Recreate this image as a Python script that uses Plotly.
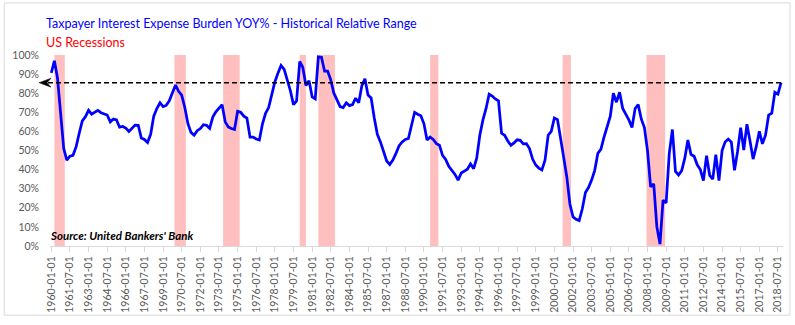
import pandas as pd
import plotly.graph_objects as go

# ---------------- data (quarterly) ----------------
series_start = "1960-01-01"
burden_pct = [
    # 1960-1964
    90.6, 97, 88, 70.5, 51, 45, 47, 47.5, 52, 59, 65.5, 67.7, 71, 69, 70, 71, 69.8, 69.2, 68.6, 65,
    # 1965-1969
    66.5, 66, 62.2, 62.6, 61.7, 60, 61.5, 63.3, 63.2, 56.5, 55.8, 54.2, 58.5, 68, 72, 75, 73, 73.6, 76, 80.7,
    # 1970-1974
    84.3, 81, 79, 72.5, 64, 59.5, 58, 60.4, 61.5, 63.5, 63.2, 61.6, 67.5, 70.2, 72.3, 74, 65, 62.3, 61.5, 61,
    # 1975-1979
    70.5, 70, 68, 67, 57, 57, 56, 55.5, 64, 69.5, 72.5, 79.5, 86, 90.5, 94.5, 92.5, 87, 81.3, 74, 76,
    # 1980-1984
    96.6, 93.5, 84, 86.5, 78, 77, 99, 98.8, 91.5, 91.5, 87, 80, 76.5, 73, 72.5, 75, 73.5, 74, 77.4, 75,
    # 1985-1989
    84, 87.5, 79, 77.5, 67, 58.5, 54.5, 49.5, 44.5, 42.7, 45, 48.5, 52.5, 54.5, 55.8, 56.3, 64, 70, 69, 68.2,
    # 1990-1994
    64, 55.5, 57, 55.8, 53.6, 52.8, 47.5, 45.3, 41.7, 39.7, 37.5, 34.5, 38.2, 39.2, 40.2, 43, 40.5, 46, 58, 66,
    # 1995-1999
    72, 79.5, 78.5, 77, 76, 59, 58, 55, 52.7, 54, 55.6, 55.3, 53.5, 53.6, 51, 45.5, 42.4, 40.8, 39.8, 45,
    # 2000-2004
    58, 60, 67, 66.2, 57, 46.5, 36.3, 22, 15.2, 14, 13.3, 19.5, 28, 30.6, 34.5, 39.6, 48.5, 50.7, 57, 62.5,
    # 2005-2009
    68, 80, 75.3, 80.5, 72, 69, 66, 62, 72, 74, 66.5, 62, 49.8, 31, 32.5, 10, 1, 24, 22.5, 48.5,
    # 2010-2014
    61, 39, 37.2, 39.5, 46, 55.5, 48, 47, 42.5, 40, 34.2, 47.3, 37, 35, 47.8, 34.2, 50, 54.5, 56, 54.4,
    # 2015-2018
    39.6, 49.5, 62, 50.2, 63.8, 55, 45.5, 52, 60, 53.5, 58, 68.5, 69.5, 80.5, 79.5, 85.5,
]

rec_start = ["1960-04-01", "1969-12-01", "1973-11-01", "1980-01-01",
             "1981-07-01", "1990-07-01", "2001-03-01", "2007-12-01"]
rec_end = ["1961-02-01", "1970-11-01", "1975-03-01", "1980-07-01",
           "1982-11-01", "1991-03-01", "2001-11-01", "2009-06-01"]

tick_start = "1960-01-01"
tick_end = "2018-07-01"
y_ticks = [0, 10, 20, 30, 40, 50, 60, 70, 80, 90, 100]

title_text = "Taxpayer Interest Expense Burden YOY% - Historical Relative Range"
legend_text = "US Recessions"
source_text = "Source: United Bankers' Bank"

# ---------------- derived ----------------
dates = pd.date_range(series_start, periods=len(burden_pct), freq="QS")
tick_dates = pd.date_range(tick_start, tick_end, freq="18MS")
tick_text = [d.strftime("%Y-%m-%d") for d in tick_dates]
y_text = [f"{v}%" for v in y_ticks]

x_range = [pd.Timestamp("1959-11-24"), pd.Timestamp("2018-11-27")]

W, H = 795, 325
L, R, T, B = 47, 12, 55, 74
pw = W - L - R
ph = H - T - B


def px_x(p):
    return (p - L) / pw


def px_y(p):
    return (H - B - p) / ph


FONT = "Lato"
GRAY = "#595959"
AXIS = "#D9D9D9"

fig = go.Figure()

fig.add_trace(go.Scatter(
    x=dates, y=burden_pct, mode="lines",
    line=dict(color="#0000FF", width=2.75),
    hoverinfo="skip",
))

for s, e in zip(rec_start, rec_end):
    fig.add_shape(type="rect", xref="x", yref="y", x0=s, x1=e, y0=0, y1=100,
                  fillcolor="#FFBFBF", line_width=0, layer="below")

# dashed "current level" line with a left-pointing arrowhead
current = burden_pct[-1]
cur_py = (H - B) - current / 100 * ph  # pixel row of the current level
end_frac = (dates[-1] - x_range[0]) / (x_range[1] - x_range[0])
fig.add_shape(type="line", xref="paper", yref="paper", x0=px_x(45), x1=end_frac,
              y0=px_y(cur_py), y1=px_y(cur_py),
              line=dict(color="black", width=1.5, dash="5px,3px"))

tip_x, back_x, notch_x, half_h = 36, 48, 44, 4.6
path = (f"M {px_x(tip_x)},{px_y(cur_py)} "
        f"L {px_x(back_x)},{px_y(cur_py - half_h)} "
        f"L {px_x(notch_x)},{px_y(cur_py)} "
        f"L {px_x(back_x)},{px_y(cur_py + half_h)} Z")
fig.add_shape(type="path", xref="paper", yref="paper", path=path,
              fillcolor="black", line=dict(color="black", width=0.5))

# chart border
fig.add_shape(type="rect", xref="paper", yref="paper",
              x0=px_x(1), x1=px_x(790), y0=px_y(322), y1=px_y(1.5),
              line=dict(color=AXIS, width=1), fillcolor="rgba(0,0,0,0)")

fig.add_annotation(xref="paper", yref="paper", x=px_x(41), y=px_y(23),
                   xanchor="left", yanchor="middle", showarrow=False,
                   text=title_text, font=dict(family=FONT, size=12.5, color="#0000FF"))
fig.add_annotation(xref="paper", yref="paper", x=px_x(41), y=px_y(42),
                   xanchor="left", yanchor="middle", showarrow=False,
                   text=legend_text, font=dict(family=FONT, size=12.5, color="#FF0000"))
fig.add_annotation(xref="paper", yref="paper", x=px_x(45), y=px_y(240),
                   xanchor="left", yanchor="middle", showarrow=False,
                   text="<b><i>" + source_text + "</i></b>",
                   font=dict(family=FONT, size=11.5, color="black"))

fig.update_layout(
    width=W, height=H,
    margin=dict(l=L, r=R, t=T, b=B, pad=0),
    paper_bgcolor="white", plot_bgcolor="white",
    showlegend=False,
    font=dict(family=FONT, color=GRAY),
    xaxis=dict(
        type="date", range=x_range,
        tickmode="array", tickvals=tick_dates, ticktext=tick_text,
        tickangle=-90, ticks="outside", ticklen=5, tickcolor=AXIS, tickwidth=1,
        showline=True, linecolor=AXIS, linewidth=1,
        showgrid=False, zeroline=False,
        tickfont=dict(family=FONT, size=10.5, color=GRAY),
    ),
    yaxis=dict(
        range=[0, 100], tickmode="array", tickvals=y_ticks, ticktext=y_text,
        showgrid=False, zeroline=False, showline=False, ticks="",
        ticklabelstandoff=10,
        tickfont=dict(family=FONT, size=10.5, color=GRAY),
    ),
)

fig.write_html("out.html", config={"displayModeBar": False})
